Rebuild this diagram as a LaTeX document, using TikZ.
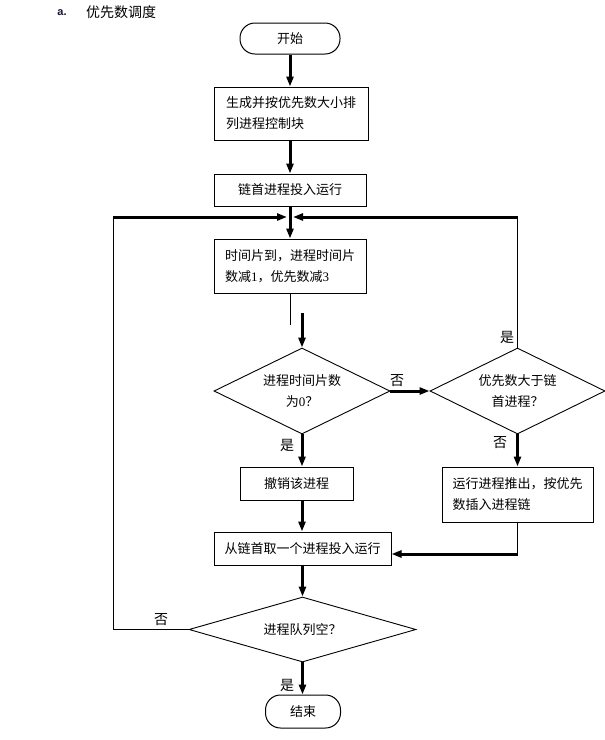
\documentclass[tikz,border=0pt]{standalone}
\usepackage{fontspec}
\setmainfont{Noto Sans CJK SC}
\newfontfamily\serifdig{Liberation Serif}
\newfontfamily\latinsans{Liberation Sans}
\usetikzlibrary{shapes.geometric,arrows.meta}
\begin{document}
\begin{tikzpicture}[x=1pt,y=-1pt,
  every node/.style={font=\fontsize{13}{21}\selectfont},
  box/.style={draw,line width=1pt,rectangle,inner sep=0pt,align=left},
  term/.style={draw,line width=1pt,rounded corners=15pt,inner sep=0pt},
  dia/.style={draw,line width=0.9pt,diamond,inner sep=0pt,align=center,aspect=2},
  thinline/.style={line width=1pt},
  flow/.style={line width=3pt,-{Triangle[length=10pt,width=7pt]}},
  lab/.style={font=\fontsize{14}{14}\selectfont,inner sep=0pt}
]
\fill[white] (0,0) rectangle (605,740);
\useasboundingbox (0,0) rectangle (605,740);

% title
\node[font=\fontsize{11}{11}\latinsans\bfseries,text={rgb,255:red,20;green,20;blue,60}] (ta) at (62,13) {a.};
\node[font=\fontsize{14}{14}\selectfont] (tt) at (121,12) {优先数调度};

% nodes
\node[term,minimum width=100pt,minimum height=31pt] (start) at (290,38.5) {开始};
\node[box,minimum width=154pt,minimum height=53pt] (b1) at (291,113.5) {生成并按优先数大小排\\列进程控制块};
\node[box,minimum width=152pt,minimum height=32pt] (b2) at (290,190) {链首进程投入运行};
\node[box,minimum width=152pt,minimum height=54pt] (b3) at (290,266) {时间片到，进程时间片\\数减{\serifdig 1}，优先数减{\serifdig 3}};
\node[dia,minimum width=176pt,minimum height=86pt] (d1) at (302,391) {进程时间片数\\为{\serifdig 0}？};
\node[dia,minimum width=175pt,minimum height=86pt] (d2) at (517.5,391) {优先数大于链\\首进程？};
\node[box,minimum width=113pt,minimum height=33pt] (b4) at (296.5,483.5) {撤销该进程};
\node[box,minimum width=151pt,minimum height=55pt] (b6) at (517.5,494.5) {运行进程推出，按优先\\数插入进程链};
\node[box,minimum width=177pt,minimum height=33pt] (b5) at (302.5,548.5) {从链首取一个进程投入运行};
\node[dia,minimum width=227pt,minimum height=65pt,aspect=3.5] (d3) at (302.5,629.5) {进程队列空？};
\node[term,minimum width=75pt,minimum height=33pt] (end) at (303,711.5) {结束};

% helper coordinates
\coordinate (cl) at (113,217);
\coordinate (cr) at (517.5,217);
\coordinate (jl) at (287,217);
\coordinate (jr) at (293,217);
\coordinate (t1) at (290,325);
\coordinate (t2) at (302,313);
\coordinate (cb) at (517.5,554);

% connectors
\draw[flow] (start.south) -- (start.south |- b1.north);
\draw[flow] (b2.north |- b1.south) -- (b2.north);
\draw[flow] (b2.south) -- (b3.north);
\draw[thinline] (d3.west) -| (cl);
\draw[flow] (cl) -- (jl);
\draw[thinline] (d2.north) -- (cr);
\draw[flow] (cr) -- (jr);
\draw[thinline] (b3.south) -- (t1);
\draw[flow] (t2) -- (d1.north);
\draw[flow] (d1.east) -- (d2.west);
\draw[flow] (d1.south) -- (d1.south |- b4.north);
\draw[flow] (d2.south) -- (b6.north);
\draw[flow] (b4.south -| d1.south) -- (d1.south |- b5.north);
\draw[thinline] (b6.south) -- (cb);
\draw[flow] (cb) -- (cb -| b5.east);
\draw[flow] (b5.south) -- (d3.north);
\draw[flow] (d3.south) -- (d3.south |- end.north);

% labels
\node[lab] (l1) at (507,337) {是};
\node[lab] (l2) at (397,381) {否};
\node[lab] (l3) at (287,445) {是};
\node[lab] (l4) at (500,443) {否};
\node[lab] (l5) at (161,620) {否};
\node[lab] (l6) at (287,685) {是};
\end{tikzpicture}
\end{document}
